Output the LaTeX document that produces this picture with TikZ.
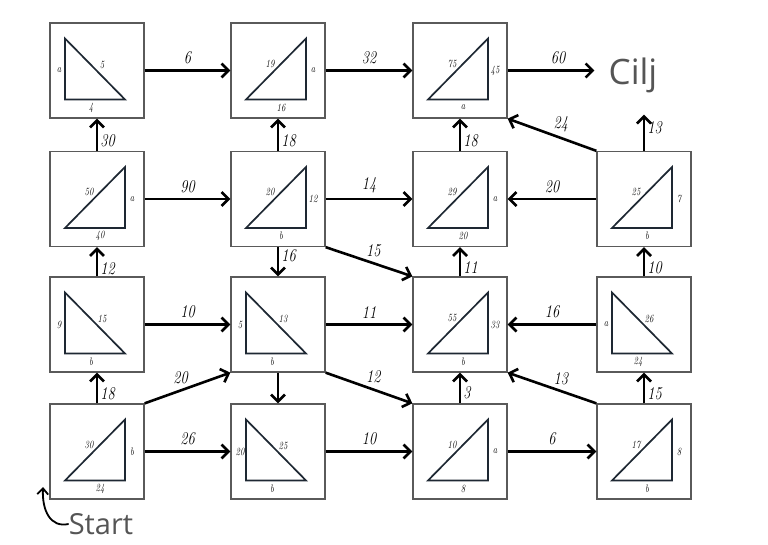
\documentclass[tikz,border=0pt]{standalone}
\usepackage{fontspec}
\newfontfamily\sketchfont{Open Sans}
\usetikzlibrary{arrows.meta}
\definecolor{boxgray}{HTML}{5A5A5A}
\definecolor{tricol}{HTML}{1E2833}
\definecolor{goalgray}{HTML}{555555}
\tikzset{
  box/.style={draw=boxgray, line width=1.3pt, minimum width=94pt, minimum height=95pt, inner sep=0pt},
  tri/.style={draw=tricol, line width=1.7pt, line join=miter},
  conn/.style={line width=2.6pt, -{Straight Barb[length=7pt,width=14pt]}},
  elab/.style={font=\fontsize{18}{18}\selectfont\itshape, inner sep=1pt},
  tlab/.style={font=\fontsize{11}{11}\selectfont\itshape, inner sep=0pt},
  goal/.style={font=\sketchfont\fontsize{35}{35}\selectfont, text=goalgray, inner sep=0pt},
  startlab/.style={font=\sketchfont\fontsize{29}{29}\selectfont, text=goalgray, inner sep=0pt},
  startarrow/.style={line width=1.8pt, -{Straight Barb[length=6pt,width=11pt]}},
}
\newcommand\hw[1]{\scalebox{0.8}[1]{#1}}
% vertical leg on the left
\newcommand\triL[4]{\begin{scope}[shift={(#1.center)}]
  \draw[tri] (-32,-32) -- (-32,29) -- (28,29) -- cycle;
  \node[tlab] (#1l) at (-38,0) {\hw{#2}};
  \node[tlab] (#1h) at (5,-6) {\hw{#3}};
  \node[tlab] (#1b) at (-6,37) {\hw{#4}};
\end{scope}}
% vertical leg on the right
\newcommand\triR[4]{\begin{scope}[shift={(#1.center)}]
  \draw[tri] (-32,29) -- (28,29) -- (28,-32) -- cycle;
  \node[tlab] (#1h) at (-8,-7) {\hw{#2}};
  \node[tlab] (#1r) at (35,0) {\hw{#3}};
  \node[tlab] (#1b) at (3,37) {\hw{#4}};
\end{scope}}
\begin{document}
\begin{tikzpicture}[x=1pt,y=-1pt]
\useasboundingbox (0,0) rectangle (768,544);
% boxes
\foreach \r/\y in {1/70.5,2/199,3/324.5,4/451.5}{
  \foreach \c/\x in {1/97,2/278,3/460,4/644}{
    \ifnum\r\c=14\else
      \node[box] (n\r\c) at (\x,\y) {};
    \fi
  }
}
\node[goal] (cilj) at (633,75) {Cilj};
\node[startlab] (start) at (101,524) {Start};
\coordinate (starttip) at (43,487);
% triangles
\triL{n11}{a}{5}{4}
\triR{n12}{19}{a}{16}
\triR{n13}{75}{45}{a}
\triR{n21}{50}{a}{40}
\triR{n22}{20}{12}{b}
\triR{n23}{29}{a}{20}
\triR{n24}{25}{7}{b}
\triL{n31}{9}{15}{b}
\triL{n32}{5}{13}{b}
\triR{n33}{55}{33}{b}
\triL{n34}{a}{26}{24}
\triR{n41}{30}{b}{24}
\triL{n42}{20}{25}{b}
\triR{n43}{10}{a}{8}
\triR{n44}{17}{8}{b}
% horizontal connectors
\draw[conn] (n11) -- node[elab, above=4pt] (e1) {\hw{6}} (n12);
\draw[conn] (n12) -- node[elab, above=4pt] (e2) {\hw{32}} (n13);
\draw[conn, shorten >=14pt] (n13.east) -- node[elab, above=4pt] (e3) {\hw{60}} (n13.east -| cilj.west);
\draw[conn] (n21) -- node[elab, above=4pt] (e4) {\hw{90}} (n22);
\draw[conn] (n22) -- node[elab, above=4pt] (e5) {\hw{14}} (n23);
\draw[conn] (n24) -- node[elab, above=4pt] (e6) {\hw{20}} (n23);
\draw[conn] (n31) -- node[elab, above=4pt] (e7) {\hw{10}} (n32);
\draw[conn] (n32) -- node[elab, above=4pt] (e8) {\hw{11}} (n33);
\draw[conn] (n34) -- node[elab, above=4pt] (e9) {\hw{16}} (n33);
\draw[conn] (n41) -- node[elab, above=4pt] (e10) {\hw{26}} (n42);
\draw[conn] (n42) -- node[elab, above=4pt] (e11) {\hw{10}} (n43);
\draw[conn] (n43) -- node[elab, above=4pt] (e12) {\hw{6}} (n44);
% vertical connectors
\draw[conn] (n21) -- node[elab, pos=0.3, right=1pt] (e13) {\hw{30}} (n11);
\draw[conn] (n22) -- node[elab, pos=0.3, right=1pt] (e14) {\hw{18}} (n12);
\draw[conn] (n23) -- node[elab, pos=0.3, right=1pt] (e15) {\hw{18}} (n13);
\draw[conn, shorten >=22pt] (n24.north) -- node[elab, pos=0.4, right=1pt] (e16) {\hw{13}} (n24.north |- cilj.south);
\draw[conn] (n31) -- node[elab, pos=0.25, right=1pt] (e17) {\hw{12}} (n21);
\draw[conn] (n22) -- node[elab, pos=0.3, right=1pt] (e18) {\hw{16}} (n32);
\draw[conn] (n33) -- node[elab, pos=0.3, right=1pt] (e19) {\hw{11}} (n23);
\draw[conn] (n34) -- node[elab, pos=0.3, right=1pt] (e20) {\hw{10}} (n24);
\draw[conn] (n41) -- node[elab, pos=0.3, right=1pt] (e21) {\hw{18}} (n31);
\draw[conn] (n32) -- (n42);
\draw[conn] (n43) -- node[elab, pos=0.35, right=1pt] (e22) {\hw{3}} (n33);
\draw[conn] (n44) -- node[elab, pos=0.3, right=1pt] (e23) {\hw{15}} (n34);
% diagonal connectors
\draw[conn] (n22.south east) -- node[elab, pos=0.55, above=4pt] (e24) {\hw{15}} (n33.north west);
\draw[conn] (n32.south east) -- node[elab, pos=0.55, above=4pt] (e25) {\hw{12}} (n43.north west);
\draw[conn] (n41.north east) -- node[elab, pos=0.42, above=4pt] (e26) {\hw{20}} (n32.south west);
\draw[conn] (n24.north west) -- node[elab, pos=0.4, above=4pt] (e27) {\hw{24}} (n13.south east);
\draw[conn] (n44.north west) -- node[elab, pos=0.4, above=4pt] (e28) {\hw{13}} (n33.south east);
% start
\draw[startarrow] (start.west) .. controls (50,528) and (42,510) .. (starttip);
\end{tikzpicture}
\end{document}
